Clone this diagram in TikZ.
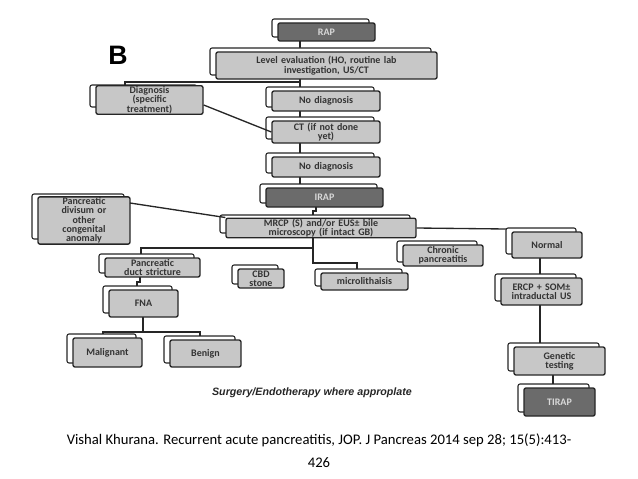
\documentclass[tikz,border=0pt]{standalone}
\usepackage{fontspec}
\setmainfont{Carlito}
\newfontfamily\hv{Liberation Sans}
\begin{document}
\begin{tikzpicture}[x=0.75pt,y=-0.75pt,
  box/.style={draw=black!85,line width=1pt,rounded corners=1.5pt,fill=black!22,inner sep=0.5pt,align=center,font=\fontsize{7.5}{7}\selectfont\bfseries,text=black!80},
  dark/.style={box,fill=black!58,text=black!15},
  shad/.style={draw=black!85,line width=0.8pt,rounded corners=1.5pt,fill=white},
  ln/.style={draw=black!85,line width=1pt}]
\useasboundingbox (0,0) rectangle (638,478);
\newcommand\bx[7]{\draw[shad] ({#2-6},{#3-4}) rectangle ({#4-6},{#5-4});
  \node[#7,minimum width={(#4-#2)*0.75pt},minimum height={(#5-#3)*0.75pt},text width={(#4-#2-4)*0.75pt}] (#1) at ({(#2+#4)/2},{(#3+#5)/2}) {#6};}
% connectors first (behind boxes)
\coordinate (j1) at (300,82);
\coordinate (j2) at (125,82);
\coordinate (m1) at (313,248);
\coordinate (m2) at (141,248);
\coordinate (m3) at (313,263);
\coordinate (m4) at (357,263);
\coordinate (f1) at (143,332);
\coordinate (f2) at (103,332);
\coordinate (f3) at (200,332);
\draw[ln] (300,41) -- (j1) -- (300,91);
\draw[ln] (j1) -- (j2) -- (125,87);
\draw[ln] (300,111) -- (300,121);
\draw[ln] (300,143) -- (300,157);
\draw[ln] (300,177) -- (300,188);
\draw[ln] (316,207) -- (316,211) -- (313,211) -- (313,219);
\draw[ln] (313,237) -- (m1) -- (m3) -- (m4) -- (357,273);
\draw[ln] (m1) -- (m2) -- (141,256);
\draw[ln] (140,277) -- (140,282) -- (137,282) -- (137,290);
\draw[ln] (143,317) -- (f1) -- (f2) -- (103,336);
\draw[ln] (f1) -- (f3) -- (200,338);
\draw[ln] (540,258) -- (540,278);
\draw[ln] (540,305) -- (540,347);
\draw[ln] (553,375) -- (553,388);
% boxes
\bx{rap}{278}{23}{375}{41}{RAP}{dark}
\bx{lev}{216}{52}{437}{79}{Level evaluation (HO, routine lab\\investigation, US/CT}{box}
\bx{dia}{96}{89}{203}{111}{Diagnosis\\(specific\\treatment)}{box}
\bx{nd1}{272}{91}{380}{111}{No diagnosis}{box}
\bx{ct}{272}{121}{380}{143}{CT (if not done\\yet)}{box}
\bx{nd2}{272}{157}{380}{177}{No diagnosis}{box}
\bx{irap}{266}{188}{383}{207}{IRAP}{dark}
\bx{div}{38}{198}{130}{243}{Pancreatic\\divisum or\\other\\congenital\\anomaly}{box}
\bx{mrcp}{226}{219}{416}{237}{MRCP (S) and/or EUS± bile\\microscopy (if intact GB)}{box}
\bx{nor}{512}{232}{582}{258}{Normal}{box}
\bx{chr}{403}{245}{483}{266}{Chronic\\pancreatitis}{box}
\bx{pds}{105}{258}{200}{277}{Pancreatic\\duct stricture}{box}
\bx{cbd}{238}{269}{284}{288}{CBD\\stone}{box}
\bx{mic}{321}{273}{408}{290}{microlithaisis}{box}
\bx{fna}{109}{290}{178}{317}{FNA}{box}
\bx{ercp}{501}{278}{582}{305}{ERCP + SOM±\\intraductal US}{box}
\bx{mal}{73}{338}{142}{367}{Malignant}{box}
\bx{ben}{170}{340}{241}{367}{Benign}{box}
\bx{gen}{514}{347}{605}{375}{Genetic\\testing}{box}
\bx{tir}{524}{388}{595}{416}{TIRAP}{dark}
\draw[ln] (dia.east) ++(0,5) -- (ct.west);
\draw[ln] (130,203) -- (mrcp.north west);
\draw[ln] (mrcp.east) -- (506,229);
\node[font=\hv\bfseries\fontsize{20}{20}\selectfont] (b) at (118,55) {B};
\node[font=\hv\bfseries\itshape\fontsize{8}{8}\selectfont,text=black!85] (sur) at (312,393) {Surgery/Endotherapy where approplate};
\node[font=\fontsize{11}{11}\selectfont] (cit1) at (319,440) {Vishal Khurana. Recurrent acute pancreatitis, JOP. J Pancreas 2014 sep 28; 15(5):413-};
\node[font=\fontsize{11}{11}\selectfont] (cit2) at (319,463) {426};
\end{tikzpicture}
\end{document}
